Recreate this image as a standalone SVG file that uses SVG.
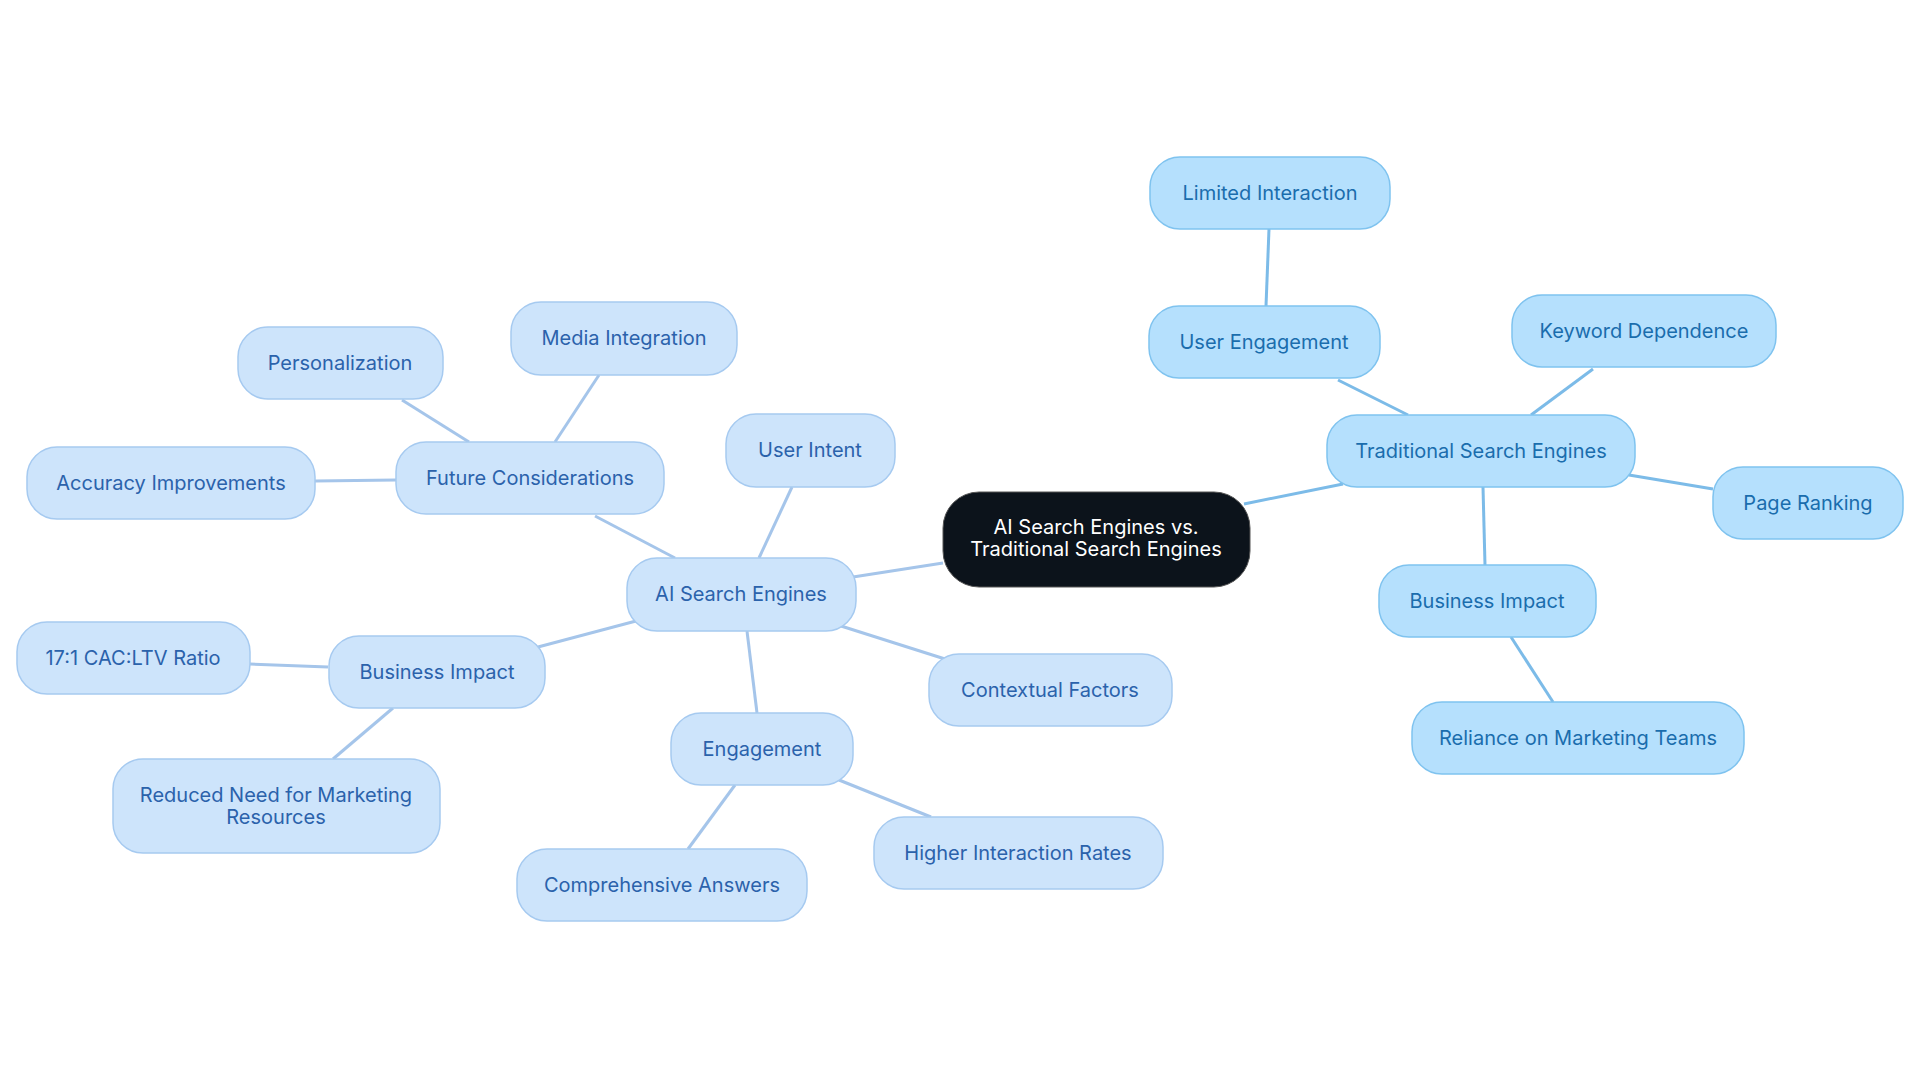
<svg xmlns="http://www.w3.org/2000/svg" width="1920" height="1083" viewBox="0 0 1920 1083">
<style>
text{font-family:Inter,"Noto Sans",sans-serif;font-size:20px;text-anchor:middle;dominant-baseline:central}
.l rect{fill:#cde4fb;stroke:#a6caf0;stroke-width:1.5}
.l text{fill:#2b62ab}
.r rect{fill:#b5e0fd;stroke:#7fc3ef;stroke-width:1.5}
.r text{fill:#1a6dad}
.cl{stroke:#a5c5ea;stroke-width:3;fill:none}
.cr{stroke:#7cbbe8;stroke-width:3;fill:none}
</style>
<rect width="1920" height="1083" fill="#fff"/>
<g id="connectors">
<line class="cr" x1="1244" y1="504" x2="1343" y2="484"/>
<line class="cl" x1="943" y1="563" x2="853" y2="577"/>
<line class="cr" x1="1408" y1="415" x2="1338" y2="380"/>
<line class="cr" x1="1266" y1="306" x2="1269" y2="229"/>
<line class="cr" x1="1531" y1="415" x2="1593" y2="369"/>
<line class="cr" x1="1629" y1="475" x2="1713" y2="489"/>
<line class="cr" x1="1483" y1="487" x2="1485" y2="565"/>
<line class="cr" x1="1511" y1="637" x2="1553" y2="702"/>
<line class="cl" x1="759" y1="558" x2="792" y2="487"/>
<line class="cl" x1="841" y1="626" x2="945" y2="659"/>
<line class="cl" x1="747" y1="631" x2="757" y2="713"/>
<line class="cl" x1="839" y1="780" x2="931" y2="817"/>
<line class="cl" x1="735" y1="785" x2="688" y2="849"/>
<line class="cl" x1="636" y1="621" x2="538" y2="647"/>
<line class="cl" x1="328" y1="667" x2="250" y2="664"/>
<line class="cl" x1="393" y1="708" x2="333" y2="759"/>
<line class="cl" x1="675" y1="558" x2="595" y2="516"/>
<line class="cl" x1="469" y1="442" x2="402" y2="400"/>
<line class="cl" x1="555" y1="442" x2="599" y2="375"/>
<line class="cl" x1="396" y1="480" x2="315" y2="481"/>
</g>
<g id="center"><rect x="943" y="492" width="307" height="95" rx="36" fill="#0c131b" stroke="#555" stroke-width="1"/><text x="1096" y="527" fill="#fff">AI Search Engines vs.</text><text x="1096" y="549" fill="#fff">Traditional Search Engines</text></g>
<g id="trad" class="r"><rect x="1327" y="415" width="308" height="72" rx="30"/><text x="1481" y="451">Traditional Search Engines</text></g>
<g id="limited" class="r"><rect x="1150" y="157" width="240" height="72" rx="30"/><text x="1270" y="193">Limited Interaction</text></g>
<g id="userEng" class="r"><rect x="1149" y="306" width="231" height="72" rx="30"/><text x="1264" y="342">User Engagement</text></g>
<g id="keyword" class="r"><rect x="1512" y="295" width="264" height="72" rx="30"/><text x="1644" y="331">Keyword Dependence</text></g>
<g id="pageRank" class="r"><rect x="1713" y="467" width="190" height="72" rx="30"/><text x="1808" y="503">Page Ranking</text></g>
<g id="bizR" class="r"><rect x="1379" y="565" width="217" height="72" rx="30"/><text x="1487" y="601">Business Impact</text></g>
<g id="reliance" class="r"><rect x="1412" y="702" width="332" height="72" rx="30"/><text x="1578" y="738">Reliance on Marketing Teams</text></g>
<g id="ai" class="l"><rect x="627" y="558" width="229" height="73" rx="30"/><text x="741" y="594">AI Search Engines</text></g>
<g id="intent" class="l"><rect x="726" y="414" width="169" height="73" rx="30"/><text x="810" y="450">User Intent</text></g>
<g id="context" class="l"><rect x="929" y="654" width="243" height="72" rx="30"/><text x="1050" y="690">Contextual Factors</text></g>
<g id="engagement" class="l"><rect x="671" y="713" width="182" height="72" rx="30"/><text x="762" y="749">Engagement</text></g>
<g id="higher" class="l"><rect x="874" y="817" width="289" height="72" rx="30"/><text x="1018" y="853">Higher Interaction Rates</text></g>
<g id="comprehensive" class="l"><rect x="517" y="849" width="290" height="72" rx="30"/><text x="662" y="885">Comprehensive Answers</text></g>
<g id="bizL" class="l"><rect x="329" y="636" width="216" height="72" rx="30"/><text x="437" y="672">Business Impact</text></g>
<g id="cac" class="l"><rect x="17" y="622" width="233" height="72" rx="30"/><text x="133" y="658">17:1 CAC:LTV Ratio</text></g>
<g id="reduced" class="l"><rect x="113" y="759" width="327" height="94" rx="30"/><text x="276" y="795">Reduced Need for Marketing</text><text x="276" y="817">Resources</text></g>
<g id="future" class="l"><rect x="396" y="442" width="268" height="72" rx="30"/><text x="530" y="478">Future Considerations</text></g>
<g id="personal" class="l"><rect x="238" y="327" width="205" height="72" rx="30"/><text x="340" y="363">Personalization</text></g>
<g id="media" class="l"><rect x="511" y="302" width="226" height="73" rx="30"/><text x="624" y="338">Media Integration</text></g>
<g id="accuracy" class="l"><rect x="27" y="447" width="288" height="72" rx="30"/><text x="171" y="483">Accuracy Improvements</text></g>
</svg>
